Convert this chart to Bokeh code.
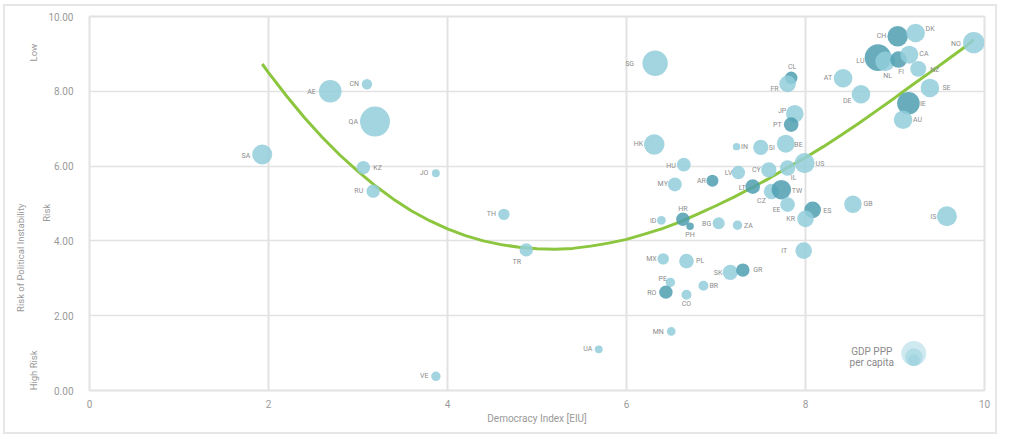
import numpy as np
from bokeh.plotting import figure
from bokeh.models import (ColumnDataSource, FixedTicker, NumeralTickFormatter, Label,
                          LinearAxis)
from bokeh.embed import file_html
from bokeh.resources import INLINE
from bokeh.core.properties import value

# ---------------- data ----------------
codes = ["SA", "AE", "CN", "QA", "KZ", "RU", "JO", "TH", "TR", "VE", "UA", "SG",
         "CL", "FR", "JP", "PT", "HK", "IN", "SI", "BE", "AT", "DE", "CH", "DK",
         "LU", "NL", "FI", "CA", "NZ", "SE", "IE", "AU", "NO", "HU", "MY", "AR",
         "LV", "CY", "IL", "US", "LT", "CZ", "TW", "EE", "ES", "KR", "HR", "PH",
         "ID", "BG", "ZA", "GB", "IS", "IT", "MX", "PL", "SK", "GR", "PE", "RO",
         "CO", "BR", "MN"]

democracy_index = [1.93, 2.69, 3.10, 3.19, 3.06, 3.17, 3.87, 4.63, 4.88, 3.87, 5.69, 6.32,
                   7.84, 7.80, 7.88, 7.84, 6.31, 7.23, 7.50, 7.78, 8.42, 8.62, 9.03, 9.23,
                   8.81, 8.89, 9.04, 9.16, 9.26, 9.39, 9.15, 9.09, 9.88, 6.64, 6.54, 6.96,
                   7.25, 7.59, 7.80, 7.99, 7.41, 7.62, 7.73, 7.80, 8.08, 8.00, 6.63, 6.71,
                   6.39, 7.03, 7.24, 8.53, 9.58, 7.98, 6.41, 6.67, 7.16, 7.30, 6.49, 6.44,
                   6.67, 6.86, 6.50]

political_stability = [6.31, 8.00, 8.19, 7.19, 5.96, 5.33, 5.81, 4.71, 3.76, 0.38, 1.10, 8.75,
                       8.36, 8.20, 7.40, 7.11, 6.58, 6.52, 6.50, 6.60, 8.35, 7.92, 9.47, 9.56,
                       8.90, 8.80, 8.85, 8.98, 8.60, 8.09, 7.68, 7.24, 9.30, 6.04, 5.51, 5.61,
                       5.83, 5.90, 5.95, 6.08, 5.45, 5.32, 5.37, 4.97, 4.83, 4.59, 4.58, 4.39,
                       4.55, 4.47, 4.42, 4.98, 4.66, 3.74, 3.52, 3.46, 3.16, 3.22, 2.89, 2.63,
                       2.56, 2.80, 1.58]

# GDP PPP per capita, thousand USD (bubble area)
gdp_ppp_k = [58, 74, 16, 130, 26, 26, 9, 19, 26, 13, 9, 93,
             23, 40, 45, 31, 61, 8, 34, 47, 50, 50, 61, 50,
             102, 56, 40, 47, 37, 50, 74, 50, 66, 28, 28, 21,
             26, 34, 34, 58, 31, 34, 55, 31, 40, 40, 26, 8,
             11, 21, 13, 44, 58, 40, 19, 31, 34, 26, 13, 26,
             14.5, 14.5, 11]

dark_group = ["CL", "PT", "CH", "LU", "FI", "IE", "AR", "LT", "TW", "ES", "HR", "PH", "GR", "RO"]

# trend line
trend_x = [1.93, 2.0, 2.2, 2.4, 2.6, 2.8, 3.0, 3.2, 3.4, 3.6, 3.8, 4.0, 4.2, 4.4, 4.6,
           4.8, 5.0, 5.2, 5.4, 5.6, 5.8, 6.0, 6.2, 6.4, 6.6, 6.8, 7.0, 7.2, 7.4, 7.6,
           7.8, 8.0, 8.2, 8.4, 8.6, 8.8, 9.0, 9.2, 9.4, 9.6, 9.8, 9.88]
trend_y = [8.73, 8.50, 7.88, 7.30, 6.77, 6.29, 5.86, 5.46, 5.11, 4.80, 4.54, 4.32, 4.14,
           4.00, 3.90, 3.83, 3.79, 3.78, 3.80, 3.86, 3.94, 4.04, 4.18, 4.33, 4.51, 4.72,
           4.94, 5.17, 5.42, 5.68, 5.96, 6.23, 6.52, 6.83, 7.15, 7.49, 7.83, 8.18, 8.52,
           8.87, 9.22, 9.38]

x_ticks = [0, 2, 4, 6, 8, 10]
y_ticks = [0, 2, 4, 6, 8, 10]
legend_gdp_k = [90, 45, 20]

x_title = "Democracy Index [EIU]"
y_title = "Risk of Political Instability"
y_side_labels = {9.27: "Low", 1.07: "High Risk"}
y_mid_label = {4.99: "Risk"}

# ---------------- styling / layout ----------------
LIGHT = "#93cedb"
DARK = "#4f9fb1"
GREEN = "#8cc63f"
GRID = "#e2e2e2"
TXT = "#8c8c8c"
AXT = "#9a9a9a"
FONT = "Roboto"
MAX_R = 15.0  # px radius of the largest bubble (130k)
PX_PER_Y = 37.4

def radius_px(g):
    return MAX_R * np.sqrt(np.asarray(g, dtype=float) / 130.0)

# label placement: (align, dx px, dy px; dy positive = down)
label_place = {
    "SA": ("right", -12, 1), "AE": ("right", -14.5, 1), "CN": ("right", -8, 0),
    "QA": ("right", -17, 0), "KZ": ("left", 10, 0), "RU": ("right", -10, 0),
    "JO": ("right", -7.5, 0), "TH": ("right", -8, 0), "TR": ("center", -9.5, 12.5),
    "VE": ("right", -7.5, 0), "UA": ("right", -6.5, 0), "SG": ("right", -21, 0.5),
    "CL": ("center", 1, -10.5), "FR": ("right", -9, 5), "JP": ("right", -8.5, -2.5),
    "PT": ("right", -9.5, 0), "HK": ("right", -11, 0), "IN": ("left", 4.5, 0.7),
    "SI": ("left", 8, 0.7), "BE": ("left", 8.5, 1), "AT": ("right", -11, 0),
    "DE": ("right", -9.5, 7), "CH": ("right", -11.5, 0), "DK": ("left", 10, -3.5),
    "LU": ("right", -13.5, 3.5), "NL": ("center", 2.5, 14.5), "FI": ("center", 2.5, 12.5),
    "CA": ("left", 10, -0.5), "NZ": ("left", 12, 1), "SE": ("left", 12.5, 0.5),
    "IE": ("left", 11.5, 0.5), "AU": ("left", 10, 0.7), "NO": ("right", -13, 1),
    "HU": ("right", -8, 1), "MY": ("right", -7, 0), "AR": ("right", -6.5, 0.5),
    "LV": ("right", -6, 0.5), "CY": ("right", -8, 0.5), "IL": ("center", 6, 10),
    "US": ("left", 11, 1), "LT": ("right", -7, 1), "CZ": ("center", -10, 9.5),
    "TW": ("left", 10.5, 1), "EE": ("right", -7, 5.5), "ES": ("left", 10.5, 1),
    "KR": ("right", -10.5, 0.5), "HR": ("center", 0, -10), "PH": ("center", 0, 8.5),
    "ID": ("right", -5, 0.3), "BG": ("right", -7.5, 1), "ZA": ("left", 6.5, 1),
    "GB": ("left", 10.5, 0), "IS": ("right", -10.5, 0.3), "IT": ("right", -16.5, 0),
    "MX": ("right", -6.5, 0.4), "PL": ("left", 9.5, 0.3), "SK": ("right", -8, 0.6),
    "GR": ("left", 10.5, 0.3), "PE": ("right", -3.5, -3), "RO": ("right", -9.5, 0.5),
    "CO": ("center", 0, 9.5), "BR": ("left", 6, 0.7), "MN": ("right", -7.5, 0.7),
}

p = figure(width=994, height=430, x_range=(0, 10), y_range=(0, 10),
           output_backend="svg", toolbar_location=None, tools="",
           min_border_left=84, min_border_right=15, min_border_top=10,
           min_border_bottom=46)
p.styles = {"border": "2px solid #e6e6e6", "margin-left": "3px", "margin-top": "4px"}

p.background_fill_color = "white"
p.border_fill_color = "white"
p.outline_line_color = GRID
p.outline_line_width = 2

p.xaxis.ticker = FixedTicker(ticks=x_ticks)
p.yaxis.ticker = FixedTicker(ticks=y_ticks)
p.yaxis.formatter = NumeralTickFormatter(format="0.00")

def plain(ax, size="10px"):
    ax.axis_line_color = None
    ax.major_tick_line_color = None
    ax.minor_tick_line_color = None
    ax.major_label_text_color = AXT
    ax.major_label_text_font = FONT
    ax.major_label_text_font_size = size

plain(p.xaxis[0])
plain(p.yaxis[0])
p.xaxis.major_label_standoff = 3
p.yaxis.major_label_standoff = 10
p.xaxis.axis_label = x_title
p.xaxis.axis_label_text_font = FONT
p.xaxis.axis_label_text_font_style = "normal"
p.xaxis.axis_label_text_font_size = "10px"
p.xaxis.axis_label_text_color = AXT
p.xaxis.axis_label_standoff = 2

# extra left axes carrying the vertical side texts
ax_mid = LinearAxis(ticker=FixedTicker(ticks=list(y_mid_label)),
                    major_label_overrides=y_mid_label)
ax_side = LinearAxis(ticker=FixedTicker(ticks=list(y_side_labels)),
                     major_label_overrides=y_side_labels)
ax_title = LinearAxis(ticker=FixedTicker(ticks=[5.0]),
                      major_label_overrides={5.0: y_title})
for ax, so in ((ax_mid, -7), (ax_side, -7), (ax_title, -7)):
    plain(ax, "9.5px")
    ax.major_label_orientation = np.pi / 2
    ax.major_label_standoff = so
    p.add_layout(ax, "left")

p.xgrid.grid_line_color = GRID
p.xgrid.grid_line_width = 2
p.ygrid.grid_line_color = GRID
p.ygrid.grid_line_width = 1.3

# trend line
p.line(trend_x, trend_y, line_color=GREEN, line_width=3)

# bubbles
r = radius_px(gdp_ppp_k)
colors = [DARK if c in dark_group else LIGHT for c in codes]
src = ColumnDataSource(dict(x=democracy_index, y=political_stability, size=2 * r,
                            color=colors, code=codes))
p.scatter("x", "y", size="size", source=src, fill_color="color", fill_alpha=0.85,
          line_color=None)

# bubble labels
for align in ("left", "right", "center"):
    xs, ys, ts, dxs, dys = [], [], [], [], []
    for i, c in enumerate(codes):
        a, dx, dy = label_place[c]
        if a != align:
            continue
        xs.append(democracy_index[i]); ys.append(political_stability[i]); ts.append(c)
        dxs.append(dx); dys.append(dy)
    s = ColumnDataSource(dict(x=xs, y=ys, t=ts, dx=dxs, dy=dys))
    p.text("x", "y", text="t", source=s, x_offset="dx", y_offset="dy",
           text_align=align, text_baseline="middle", text_font=value(FONT),
           text_font_size="7px", text_color=TXT)

# size legend
leg_r = radius_px(legend_gdp_k)
leg_base = 0.655
p.scatter([9.21] * 3, [leg_base + rr / PX_PER_Y for rr in leg_r], size=2 * leg_r,
          fill_color=LIGHT, fill_alpha=0.45, line_color=None)
p.add_layout(Label(x=8.74, y=1.05, text="GDP PPP", text_align="center",
                   text_baseline="middle", text_font=FONT, text_font_size="10px",
                   text_color="#8a8a8a"))
p.add_layout(Label(x=8.74, y=0.74, text="per capita", text_align="center",
                   text_baseline="middle", text_font=FONT, text_font_size="10px",
                   text_color="#8a8a8a"))

open("out.html", "w").write(file_html(p, INLINE))
